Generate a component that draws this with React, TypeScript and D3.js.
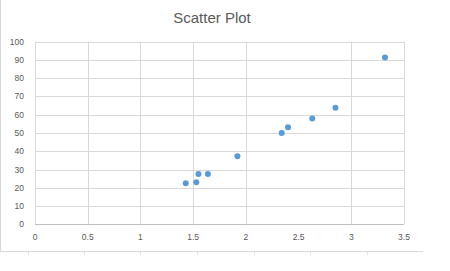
import React from "react";
import * as d3 from "d3";

const xValues = [1.43, 1.53, 1.55, 1.64, 1.92, 2.34, 2.40, 2.63, 2.85, 3.32];
const yValues = [22.5, 23, 27.5, 27.5, 37.3, 50, 53.2, 58, 63.8, 91.3];
const xTicks = [0, 0.5, 1, 1.5, 2, 2.5, 3, 3.5];
const yTicks = [0, 10, 20, 30, 40, 50, 60, 70, 80, 90, 100];
const xGridSkip = [2.5];
const sheetTicks = [28, 84, 140, 197, 254, 310, 367];

export default function App() {
  const W = 450, H = 271;
  const x = d3.scaleLinear().domain([0, 3.5]).range([35, 404]);
  const y = d3.scaleLinear().domain([0, 100]).range([224.3, 41.7]);
  const font = "'Liberation Sans', Arial, sans-serif";
  const textCol = "#595959";
  return (
    <svg width={W} height={H} style={{ position: "absolute", left: 0, top: 0, background: "#fff" }}>
      <rect x={0} y={0} width={W} height={H} fill="#fff" />
      <line x1={0.5} y1={0} x2={0.5} y2={251.5} stroke="#d9d9d9" />
      <line x1={0} y1={251.5} x2={423} y2={251.5} stroke="#d9d9d9" />
      {sheetTicks.map((t) => (
        <line key={t} x1={t + 0.5} y1={252} x2={t + 0.5} y2={255} stroke="#e3e3e3" />
      ))}
      <text x={212} y={23} textAnchor="middle" fontFamily={font} fontSize={15} fill={textCol}>
        Scatter Plot
      </text>
      {yTicks.map((t) => (
        <g key={"y" + t}>
          <line x1={35} x2={404} y1={Math.round(y(t)) + 0.5} y2={Math.round(y(t)) + 0.5}
            stroke={t === 0 ? "#bfbfbf" : "#d9d9d9"} />
          <text x={24} y={y(t) + 3} textAnchor="end" fontFamily={font} fontSize={8.5} fill={textCol}>
            {t}
          </text>
        </g>
      ))}
      {xTicks.map((t) => (
        <g key={"x" + t}>
          {xGridSkip.indexOf(t) < 0 && (
            <line x1={Math.round(x(t)) + 0.5} x2={Math.round(x(t)) + 0.5} y1={y(100)} y2={y(0)} stroke="#d9d9d9" />
          )}
          <text x={x(t)} y={240} textAnchor="middle" fontFamily={font} fontSize={8.5} fill={textCol}>
            {t}
          </text>
        </g>
      ))}
      {xValues.map((v, i) => (
        <circle key={i} cx={x(v)} cy={y(yValues[i])} r={3} fill="#5b9bd5" />
      ))}
    </svg>
  );
}
